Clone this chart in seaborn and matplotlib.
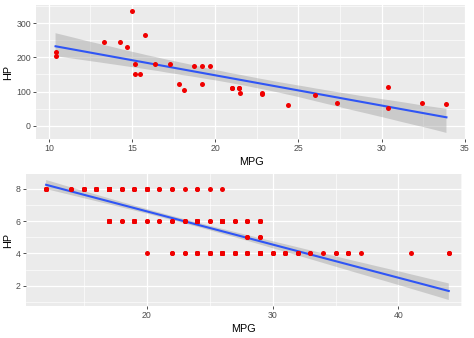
import numpy as np
import pandas as pd
import matplotlib
matplotlib.use("Agg")
import matplotlib.pyplot as plt
import seaborn as sns
from matplotlib.ticker import MultipleLocator

# ---- top panel data (MPG vs HP) ----
car_mpg = [21.0, 21.0, 22.8, 21.4, 18.7, 18.1, 14.3, 24.4, 22.8, 19.2, 17.8,
           16.4, 17.3, 15.2, 10.4, 10.4, 14.7, 32.4, 30.4, 33.9, 21.5, 15.5,
           15.2, 13.3, 19.2, 27.3, 26.0, 30.4, 15.8, 19.7, 15.0, 21.4]
car_hp = [110, 110, 93, 110, 175, 105, 245, 62, 95, 123, 123,
          180, 180, 180, 205, 215, 230, 66, 52, 65, 97, 150,
          150, 245, 175, 66, 91, 113, 264, 175, 335, 109]

# ---- bottom panel data (MPG vs HP value levels, with estimated multiplicities) ----
pt_mpg = [12, 14, 15, 16, 17, 18, 19, 20, 21, 22, 23, 24, 25, 26,
          17, 18, 19, 20, 21, 22, 23, 24, 25, 26, 27, 28, 29,
          28, 29,
          20, 22, 23, 24, 25, 26, 27, 28, 29, 30, 31, 32, 33, 34, 35, 36, 37, 41, 44]
pt_hp = [8] * 14 + [6] * 13 + [5] * 2 + [4] * 19
pt_count = [5, 2, 6, 8, 23, 4, 5, 8, 2, 2, 1, 2, 1, 1,
            12, 2, 10, 2, 2, 3, 4, 12, 2, 18, 3, 4, 5,
            2, 2,
            1, 2, 2, 6, 6, 12, 6, 6, 14, 4, 5, 4, 2, 1, 2, 4, 1, 1, 2]

top_df = pd.DataFrame({"MPG": car_mpg, "HP": car_hp})
bot_df = pd.DataFrame({"MPG": np.repeat(pt_mpg, pt_count),
                       "HP": np.repeat(pt_hp, pt_count)})

plt.rcParams["font.family"] = ["Liberation Sans", "DejaVu Sans"]

fig = plt.figure(figsize=(4.74, 3.38), dpi=100)
ax1 = fig.add_axes([36 / 474, 1 - 139 / 338, 430 / 474, 134 / 338])
ax2 = fig.add_axes([26 / 474, 1 - 306 / 338, 436 / 474, 132 / 338])

POINT = "#F00000"
LINE = "#2F55F5"


def style(ax, xmaj, ymaj):
    ax.set_facecolor("#EBEBEB")
    for s in ax.spines.values():
        s.set_visible(False)
    ax.xaxis.set_major_locator(MultipleLocator(xmaj))
    ax.xaxis.set_minor_locator(MultipleLocator(xmaj / 2))
    ax.yaxis.set_major_locator(MultipleLocator(ymaj))
    ax.yaxis.set_minor_locator(MultipleLocator(ymaj / 2))
    ax.grid(which="major", color="white", linewidth=0.9)
    ax.grid(which="minor", color="white", linewidth=0.45)
    ax.set_axisbelow(True)
    ax.tick_params(which="major", length=2.2, width=0.6, color="#333333",
                   labelsize=6.3, labelcolor="#4D4D4D", pad=1.5)
    ax.tick_params(which="minor", length=0)
    ax.set_xlabel("MPG", fontsize=7.8, labelpad=2.5)
    ax.set_ylabel("HP", fontsize=7.8, labelpad=2)


for ax, df in ((ax1, top_df), (ax2, bot_df)):
    sns.regplot(data=df, x="MPG", y="HP", ax=ax, ci=95, n_boot=2000, seed=1,
                scatter_kws=dict(color=POINT, s=13, linewidths=0, alpha=1, zorder=5),
                line_kws=dict(color=LINE, linewidth=1.5, zorder=4))
    band = ax.collections[-1]
    band.set_facecolor("#999999")
    band.set_alpha(0.4)
    band.set_zorder(3)

style(ax1, 5, 100)
style(ax2, 10, 2)
ax2.set_xlim(10.4, 45.05)

fig.savefig("out.png", dpi=100)
